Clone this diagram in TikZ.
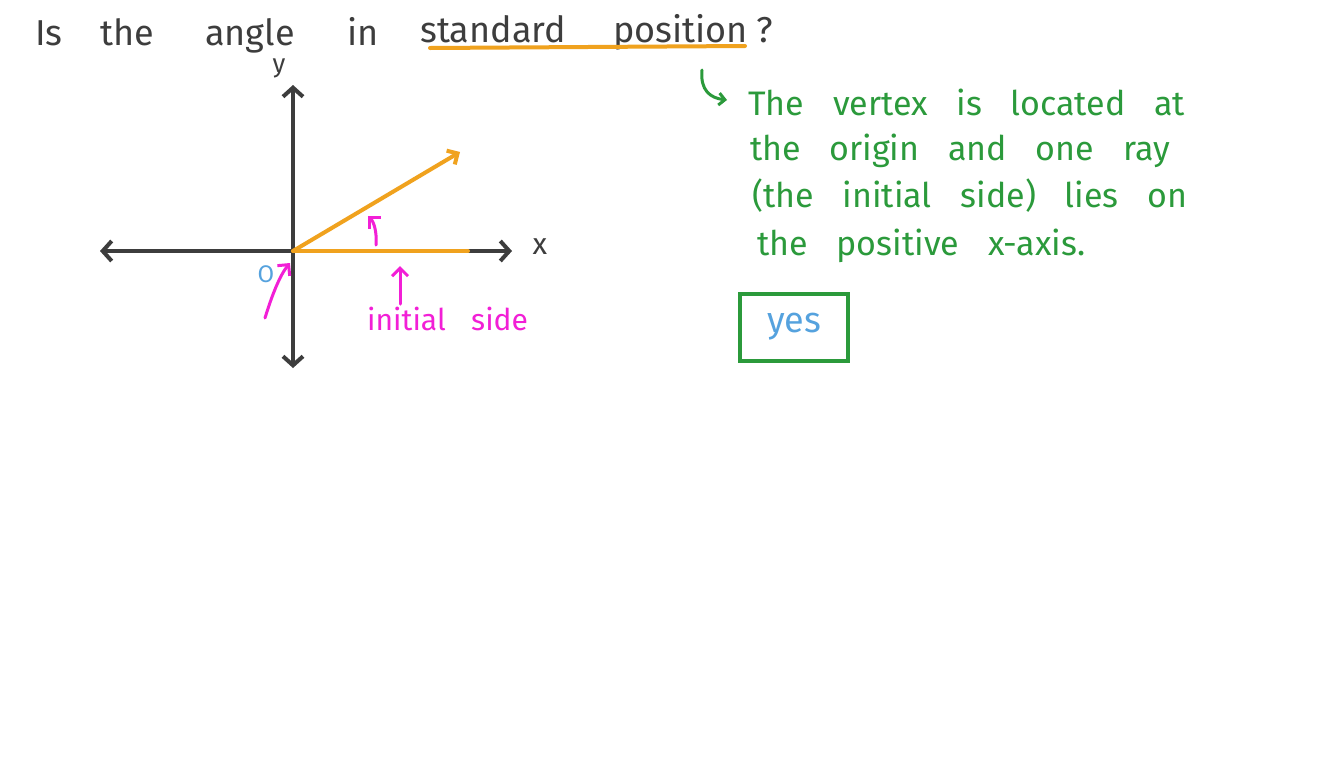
\documentclass[tikz,border=0pt]{standalone}
\usepackage{fontspec}
\setmainfont{Fira Sans}
\newfontfamily\hand[WordSpace=3.2]{Fira Sans}
\usetikzlibrary{arrows.meta}
\definecolor{axisgray}{HTML}{3D3D3D}
\definecolor{rayorange}{HTML}{F0A21E}
\definecolor{pinkm}{HTML}{F21FD6}
\definecolor{greenh}{HTML}{2B9A3B}
\definecolor{blueh}{HTML}{55A2DE}
\tikzset{
  axis/.style={draw=axisgray,line width=4pt,line cap=round,{Straight Barb[length=9pt,width=20pt]}-{Straight Barb[length=9pt,width=20pt]}},
  ray/.style={draw=rayorange,line width=4pt,line cap=round},
  pink/.style={draw=pinkm,line width=3pt,line cap=round,-{Straight Barb[length=8pt,width=16pt]}},
  title/.style={anchor=base west,text=axisgray,font=\hand\fontsize{36}{40}\selectfont,inner sep=0pt},
  greentxt/.style={anchor=base west,text=greenh,font=\hand\fontsize{34}{38}\selectfont,inner sep=0pt},
}
\begin{document}
\begin{tikzpicture}[x=1pt,y=-1pt]
\useasboundingbox[fill=white] (0,0) rectangle (1344,756);
% title
\node[title] (t1) at (35,45) {Is};
\node[title] (t2) at (100,45) {the};
\node[title] (t3) at (205,45) {angle};
\node[title] (t4) at (347,45) {in};
\node[title] (t5) at (420,42) {standard};
\node[title] (t6) at (613,42) {position};
\node[title] (t7) at (756,42) {?};
\coordinate (ul1) at (430,48);
\coordinate (ul2) at (745,46);
\draw[ray] (ul1) -- (ul2);
% axes
\coordinate (O) at (293,251);
\coordinate (yt) at (293,85);
\coordinate (yb) at (293,368);
\coordinate (xl) at (100,251);
\coordinate (xr) at (512,251);
\draw[axis] (yb) -- (yt);
\draw[axis] (xl) -- (xr);
\node[text=axisgray,font=\hand\fontsize{26}{28}\selectfont,inner sep=0pt] (ylab) at (279,68) {y};
\node[text=axisgray,font=\hand\fontsize{30}{32}\selectfont] (xlab) at (540,247) {x};
% rays
\coordinate (ini) at (468,251);
\coordinate (term) at (460,152);
\draw[ray] (O) -- (ini);
\draw[ray,-{Straight Barb[length=8pt,width=16pt]}] (O) -- (term);
% pink arrows
\coordinate (a1s) at (376,245);
\coordinate (a1e) at (368,216);
\draw[pink] (a1s) .. controls (377,232) and (374,222) .. (a1e);
\coordinate (a2s) at (400,304);
\coordinate (a2e) at (400,266);
\draw[pink] (a2s) -- (a2e);
\coordinate (a3s) at (265,318);
\coordinate (a3e) at (290,263);
\draw[pink] (a3s) .. controls (272,295) and (280,275) .. (a3e);
\node[anchor=base west,text=pinkm,font=\hand\fontsize{30}{32}\selectfont,inner sep=0pt] (lab) at (367,330) {initial side};
\node[text=blueh,font=\hand\fontsize{24}{26}\selectfont] (olab) at (266,274) {O};
% green explanation
\coordinate (gs) at (702,70);
\coordinate (ge) at (727,100);
\draw[draw=greenh,line width=3pt,line cap=round,-{Straight Barb[length=6pt,width=12pt]}] (gs) .. controls (700,90) and (710,98) .. (ge);
\node[greentxt] (l1) at (748,115) {The vertex is located at};
\node[greentxt] (l2) at (750,160) {the origin and one ray};
\node[greentxt] (l3) at (752,207) {(the initial side) lies on};
\node[greentxt] (l4) at (757,255) {the positive x-axis.};
\node[draw=greenh,line width=4pt,minimum width=108pt,minimum height=67pt,text=blueh,font=\hand\fontsize{36}{38}\selectfont] (yes) at (794,327) {yes};
\end{tikzpicture}
\end{document}
